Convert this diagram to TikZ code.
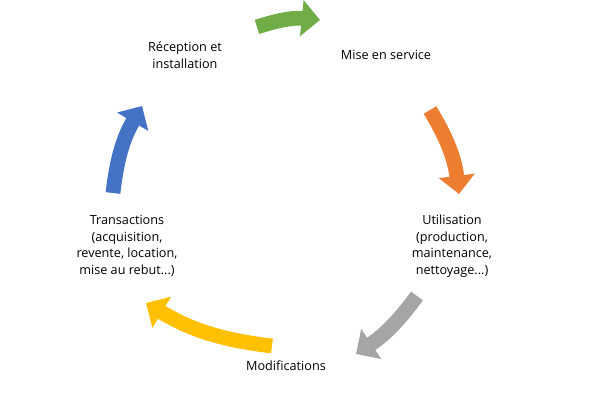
\documentclass[tikz,border=0pt]{standalone}
\usepackage{fontspec}
\setmainfont{Open Sans}
\usetikzlibrary{arrows.meta}
\definecolor{cgreen}{RGB}{112,173,71}
\definecolor{corange}{RGB}{237,125,49}
\definecolor{cgray}{RGB}{165,165,165}
\definecolor{cyellow}{RGB}{255,192,0}
\definecolor{cblue}{RGB}{68,114,196}
\tikzstyle{phase} = [align=center, font=\fontsize{18}{23.5}\selectfont]
\tikzstyle{cycle} = [line width=21pt, -{Triangle[width=50pt,length=26pt]}]

\begin{document}
\begin{tikzpicture}[x=0.05cm, y=-0.05cm]
\useasboundingbox (0,0) rectangle (600,400);

            \node (recep) [phase] at (185,55) {Réception et\\installation};
            \node (mise) [phase] at (386,55) {Mise en service};
            \node (util) [phase] at (452,246) {Utilisation\\(production,\\maintenance,\\nettoyage...)};
            \node (modif) [phase] at (286,366) {Modifications};
            \node (trans) [phase] at (127,246) {Transactions\\(acquisition,\\revente, location,\\mise au rebut...)};

            \coordinate (g1) at (257,27); \coordinate (g2) at (320,20);
            \coordinate (o1) at (430,110); \coordinate (o2) at (459,194);
            \coordinate (s1) at (417,296); \coordinate (s2) at (356,354);
            \coordinate (y1) at (272,346); \coordinate (y2) at (146,303);
            \coordinate (b1) at (113,193); \coordinate (b2) at (142,106);

            \draw [cycle, cgreen] (g1) to[bend left=12] (g2);
            \draw [cycle, corange] (o1) to[bend left=12] (o2);
            \draw [cycle, cgray] (s1) to[bend left=10] (s2);
            \draw [cycle, cyellow] (y1) to[bend left=12] (y2);
            \draw [cycle, cblue] (b1) to[bend left=12] (b2);

        \end{tikzpicture}
\end{document}
